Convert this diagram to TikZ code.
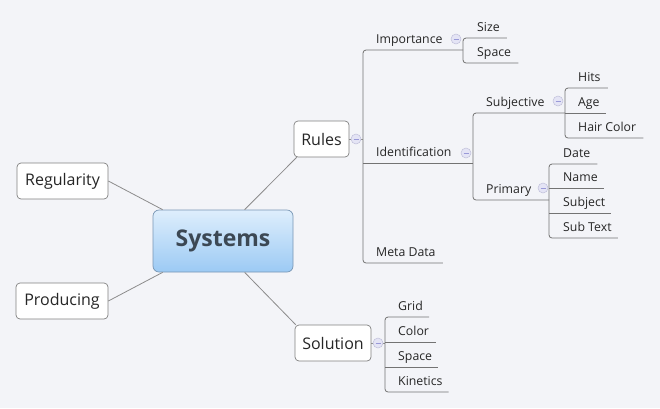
\documentclass[tikz,border=0pt]{standalone}
\usepackage{fontspec}
\setmainfont{Open Sans}
\newcommand{\tailsp}[1]{\kern#1pt\relax}
\begin{document}
\begin{tikzpicture}[x=1pt,y=-1pt,
  every node/.style={font=\fontsize{12.3}{14}\selectfont, text=black!85},
  conn/.style={draw=black!45, line width=0.8pt},
  brk/.style={draw=black!55, line width=0.8pt, rounded corners=3pt},
  topic/.style={draw=black!50, fill=white, rounded corners=4pt, line width=0.7pt,
     minimum height=36pt, inner xsep=6pt, font=\fontsize{16}{18}\selectfont},
  sub/.style={anchor=south west, inner xsep=0pt, inner ysep=0pt, text depth=6pt},
  fold/.style={circle, draw=blue!25!gray!40, fill=blue!30!white!75!gray!30, line width=0.5pt,
     minimum size=10pt, inner sep=0pt, path picture={\draw[blue!45!gray!55, line width=0.6pt]
     ([xshift=-2.5pt]path picture bounding box.center) -- ([xshift=2.5pt]path picture bounding box.center);}},
]
\fill[fill={rgb,255:red,243;green,244;blue,248}] (0,0) rectangle (660,408);
\useasboundingbox (0,0) rectangle (660,408);

% central
\node[draw={rgb,255:red,120;green,150;blue,180}, rounded corners=6pt, line width=0.7pt,
  minimum width=140pt, minimum height=62pt, top color={rgb,255:red,222;green,238;blue,252},
  bottom color={rgb,255:red,156;green,202;blue,244},
  font=\fontsize{23}{26}\selectfont\bfseries, text={rgb,255:red,60;green,72;blue,84}]
  (sys) at (223,241) {Systems};

\node[topic, minimum width=91pt] (reg) at (62.5,181) {Regularity};
\node[topic, minimum width=92pt] (prod) at (62,301) {Producing};
\node[topic, minimum width=55pt] (rules) at (321.5,139) {Rules};
\node[topic, minimum width=76pt] (sol) at (333,343) {Solution};

\path (sys.north west) ++(10,0) coordinate (sysnw);
\path (sys.south west) ++(10,0) coordinate (syssw);
\path (sys.north west) ++(92,0) coordinate (sysne);
\path (sys.south west) ++(92,0) coordinate (sysse);
\draw[conn] (reg.east) -- (sysnw);
\draw[conn] (prod.east) -- (syssw);
\draw[conn] (sysne) -- ([xshift=3pt]rules.south west);
\draw[conn] (sysse) -- ([xshift=1pt]sol.north west);

% Rules subtree
\node[sub] (imp) at (363,50) {\hspace{13pt}Importance};
\node[sub] (ident) at (363,163) {\hspace{13pt}Identification};
\node[sub] (meta) at (363,263) {\hspace{13pt}Meta Data\tailsp{7}};

\node[sub] (size) at (463,38) {\hspace{14pt}Size\tailsp{7}};
\node[sub] (space) at (463,63) {\hspace{14pt}Space\tailsp{7}};

\node[sub] (subj) at (473,113) {\hspace{13pt}Subjective};
\node[sub] (prim) at (473,200) {\hspace{13pt}Primary};

\node[sub] (hits) at (565,88) {\hspace{13pt}Hits\tailsp{7}};
\node[sub] (age) at (565,113) {\hspace{13pt}Age\tailsp{6}};
\node[sub] (hair) at (565,138) {\hspace{13pt}Hair Color\tailsp{7}};

\node[sub] (date) at (549,164) {\hspace{14pt}Date\tailsp{7}};
\node[sub] (name) at (549,188) {\hspace{14pt}Name\tailsp{6}};
\node[sub] (subject) at (549,213) {\hspace{14pt}Subject\tailsp{6}};
\node[sub] (subtext) at (549,238) {\hspace{14pt}Sub Text\tailsp{6}};

% Solution subtree
\node[sub] (grid) at (385,317) {\hspace{13pt}Grid\tailsp{6}};
\node[sub] (color) at (385,342) {\hspace{13pt}Color\tailsp{7}};
\node[sub] (spc) at (385,367) {\hspace{13pt}Space\tailsp{6}};
\node[sub] (kin) at (385,392) {\hspace{13pt}Kinetics\tailsp{6}};

% brackets
\draw[brk] (imp.south west -| size.south west) -- (imp.south west) -- (meta.south west) -- (meta.south east);
\draw[conn] (rules.east) -- (rules.east -| imp.south west);
\draw[brk] (size.south east) -- (size.south west) -- (space.south west) -- (space.south east);
\draw[brk] (ident.south west) -- (ident.south west -| subj.south west);
\draw[brk] (subj.south west -| hits.south west) -- (subj.south west) -- (prim.south west) -- (prim.south west -| date.south west);
\draw[brk] (hits.south east) -- (hits.south west) -- (hair.south west) -- (hair.south east);
\draw[brk] (age.south west) -- (age.south east);
\draw[brk] (date.south east) -- (date.south west) -- (subtext.south west) -- (subtext.south east);
\draw[brk] (name.south west) -- (name.south east);
\draw[brk] (subject.south west) -- (subject.south east);
\draw[conn] (sol.east) -- (sol.east -| grid.south west);
\draw[brk] (grid.south east) -- (grid.south west) -- (kin.south west) -- (kin.south east);
\draw[brk] (color.south west) -- (color.south east);
\draw[brk] (spc.south west) -- (spc.south east);

% fold buttons
\node[fold] (f1) at (356,139) {};
\node[fold] (f2) at (456,39) {};
\node[fold] (f3) at (466,153) {};
\node[fold] (f4) at (558,101) {};
\node[fold] (f5) at (543,188) {};
\node[fold] (f6) at (378,343) {};
\end{tikzpicture}
\end{document}
